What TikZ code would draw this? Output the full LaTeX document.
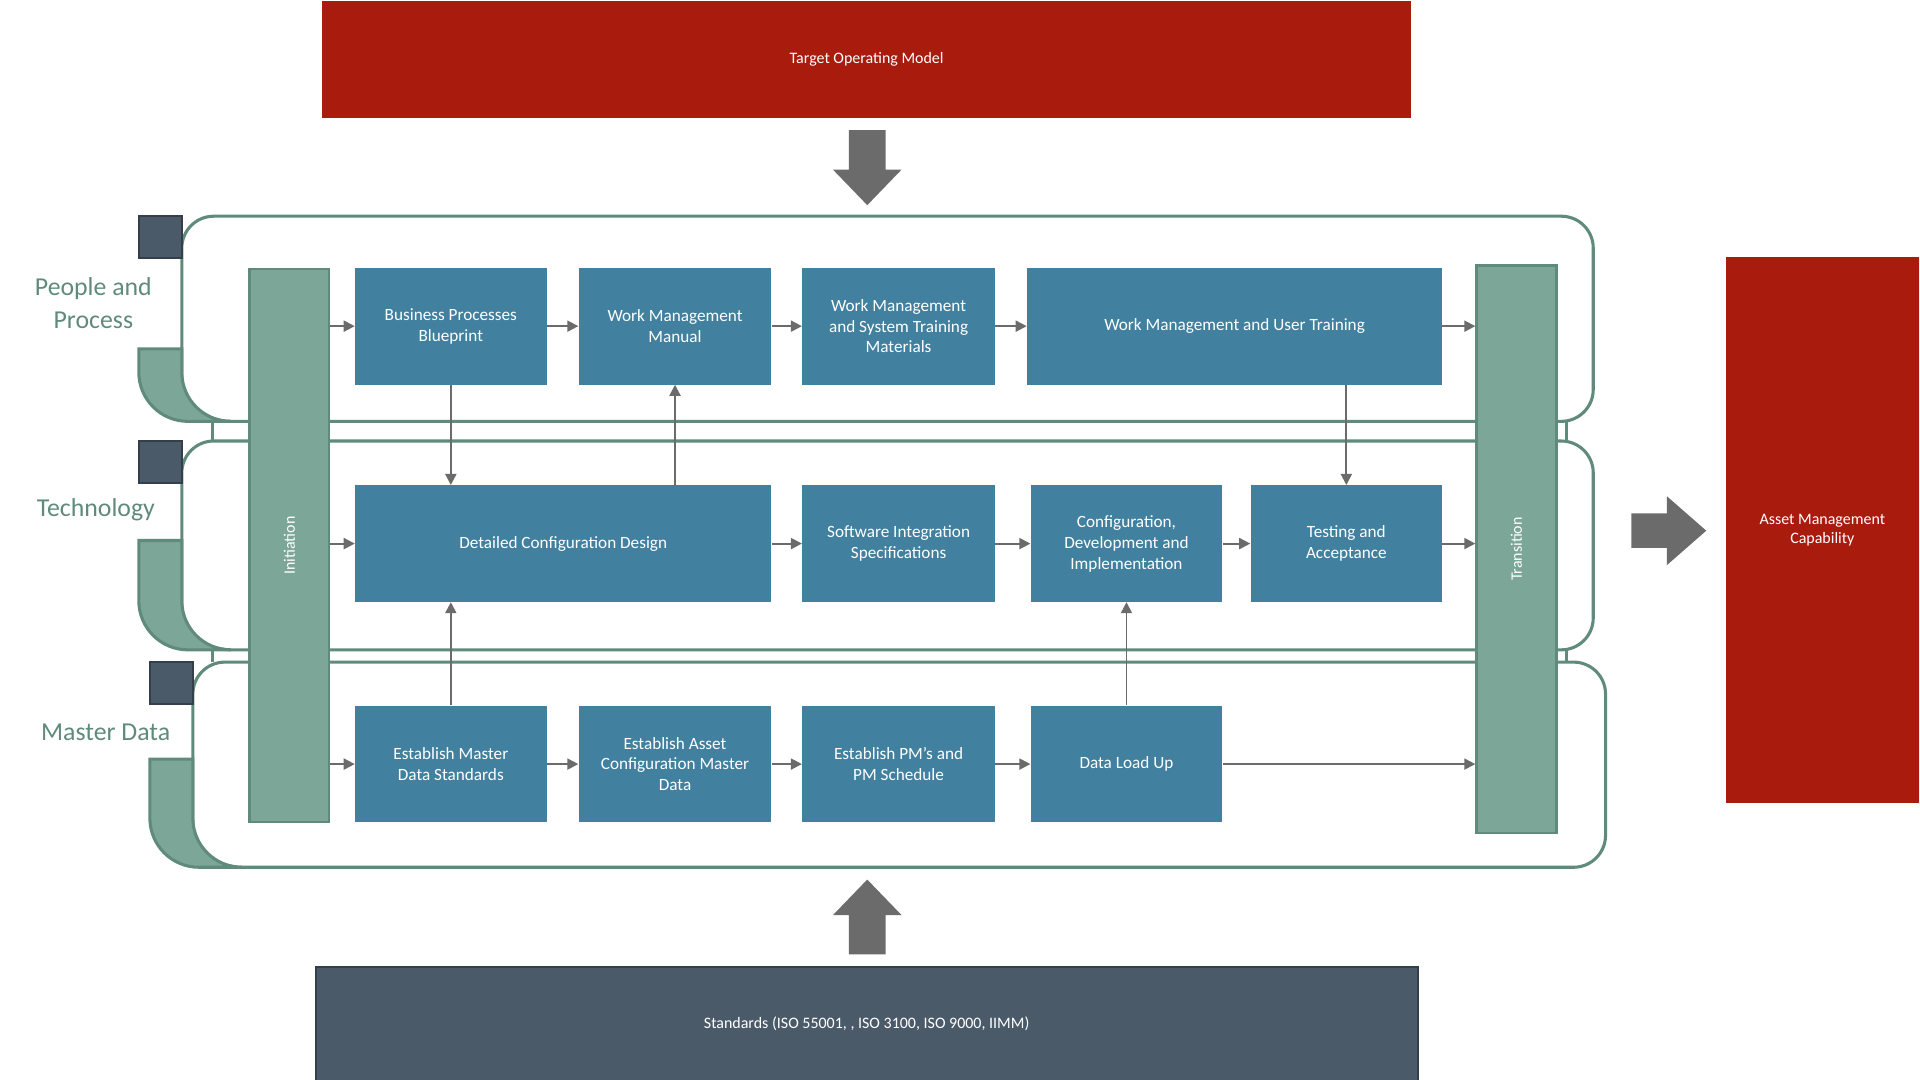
\documentclass[tikz,border=0pt]{standalone}
\usepackage{fontspec}
\setmainfont{Carlito}
\usetikzlibrary{arrows.meta}
\definecolor{tomred}{HTML}{A91B0D}
\definecolor{stepblue}{HTML}{41809E}
\definecolor{laneteal}{HTML}{7BA698}
\definecolor{lanestroke}{HTML}{5F8A7C}
\definecolor{slate}{HTML}{4B5A69}
\definecolor{flowgray}{HTML}{6B6B6B}
\tikzset{
  blk/.style={rectangle, fill=stepblue, text=white, align=center, font=\fontsize{14}{17}\selectfont, inner sep=2pt},
  phase/.style={rectangle, fill=laneteal, draw=lanestroke, line width=2pt, text=white, font=\fontsize{13}{15}\selectfont},
  arr/.style={-{Triangle[length=9pt,width=9pt]}, line width=1.5pt, draw=flowgray},
  lane/.style={draw=lanestroke, line width=2.5pt, fill=white},
  tab/.style={fill=laneteal, draw=lanestroke, line width=2.5pt},
  lbl/.style={text=lanestroke, align=center, font=\fontsize{21}{27}\selectfont},
  big/.style={fill=flowgray}
}
\begin{document}
\begin{tikzpicture}[x=1pt,y=-1pt]
    \useasboundingbox (0,0) rectangle (1563,879);

    % top and bottom inputs
    \node[rectangle, fill=tomred, minimum width=886pt, minimum height=95pt, text=white, font=\fontsize{13}{15}\selectfont] (tom) at (705.5,48.5) {Target Operating Model};
    \node[rectangle, fill=slate, draw=slate!70!black, line width=1.5pt, minimum width=897pt, minimum height=93pt, text=white, font=\fontsize{13}{15}\selectfont] (std) at (705.5,833.5) {Standards (ISO 55001, , ISO 3100, ISO 9000, IIMM)};
    \node[rectangle, fill=tomred, minimum width=157pt, minimum height=445pt, text=white, align=center, font=\fontsize{13}{15}\selectfont] (amc) at (1483.5,431.5) {Asset Management\\Capability};

    % block arrows
    \fill[big] (691,106) -- (721,106) -- (721,138) -- (734,138) -- (706,167) -- (678,138) -- (691,138) -- cycle;
    \fill[big] (691,777) -- (721,777) -- (721,745) -- (734,745) -- (706,716) -- (678,745) -- (691,745) -- cycle;
    \fill[big] (1328,418) -- (1357,418) -- (1357,404) -- (1389,432) -- (1357,460) -- (1357,446) -- (1328,446) -- cycle;

    % lanes
    \draw[lanestroke, line width=2.5pt] (173,343) -- (173,359) (1275,343) -- (1275,359) (173,529) -- (173,539) (1275,529) -- (1275,539);
    \draw[lane, rounded corners=26pt] (188,343) -- (1297,343) -- (1297,176) -- (148,176) -- (148,303) [sharp corners] to[out=-90,in=180] (188,343);
    \draw[lane, rounded corners=26pt] (188,529) -- (1297,529) -- (1297,359) -- (148,359) -- (148,489) [sharp corners] to[out=-90,in=180] (188,529);
    \draw[lane, rounded corners=26pt] (197,706) -- (1307,706) -- (1307,539) -- (157,539) -- (157,666) [sharp corners] to[out=-90,in=180] (197,706);
    \draw[tab] (113,284) -- (148,284) -- (148,303) to[out=-90,in=180] (188,343) -- (153,343) to[out=180,in=-90] (113,303) -- cycle;
    \draw[tab] (113,440) -- (148,440) -- (148,489) to[out=-90,in=180] (188,529) -- (153,529) to[out=180,in=-90] (113,489) -- cycle;
    \draw[tab] (122,618) -- (157,618) -- (157,666) to[out=-90,in=180] (197,706) -- (162,706) to[out=180,in=-90] (122,666) -- cycle;
    \draw[fill=slate, draw=slate!70!black, line width=1.5pt] (113,176) rectangle (148,210) (113,359) rectangle (148,393) (122,539) rectangle (157,573);
    \node[lbl] (lpp) at (76,247) {People and\\Process};
    \node[lbl] (ltech) at (78,415) {Technology};
    \node[lbl] (lmd) at (86,596) {Master Data};

    % phases
    \node[phase, minimum width=65pt, minimum height=450pt] (init) at (235.5,444) {\rotatebox{90}{Initiation}};
    \node[phase, minimum width=65pt, minimum height=462pt] (trans) at (1234.5,447) {\rotatebox{90}{Transition}};

    % steps
    \node[blk, minimum width=156pt, minimum height=95pt] (bpb) at (367,265.5) {Business Processes\\Blueprint};
    \node[blk, minimum width=157pt, minimum height=95pt] (wmm) at (549.5,265.5) {Work Management\\Manual};
    \node[blk, minimum width=157pt, minimum height=95pt] (wmst) at (731.5,265.5) {Work Management\\and System Training\\Materials};
    \node[blk, minimum width=338pt, minimum height=95pt] (wmut) at (1005,265.5) {Work Management and User Training};
    \node[blk, minimum width=339pt, minimum height=95pt] (dcd) at (458.5,442.5) {Detailed Configuration Design};
    \node[blk, minimum width=157pt, minimum height=95pt] (sis) at (731.5,442.5) {Software Integration\\Specifications};
    \node[blk, minimum width=156pt, minimum height=95pt] (cdi) at (917,442.5) {Configuration,\\Development and\\Implementation};
    \node[blk, minimum width=156pt, minimum height=95pt] (ta) at (1096,442.5) {Testing and\\Acceptance};
    \node[blk, minimum width=156pt, minimum height=95pt] (emds) at (367,622) {Establish Master\\Data Standards};
    \node[blk, minimum width=157pt, minimum height=95pt] (eacm) at (549.5,622) {Establish Asset\\Configuration Master\\Data};
    \node[blk, minimum width=157pt, minimum height=95pt] (epm) at (731.5,622) {Establish PM's and\\PM Schedule};
    \node[blk, minimum width=156pt, minimum height=95pt] (dlu) at (917,622) {Data Load Up};

    % flow
    \draw[arr] (bpb.west -| init.east) -- (bpb);
    \draw[arr] (bpb) -- (wmm);
    \draw[arr] (wmm) -- (wmst);
    \draw[arr] (wmst) -- (wmut);
    \draw[arr] (wmut) -- (wmut.east -| trans.west);
    \draw[arr] (dcd.west -| init.east) -- (dcd);
    \draw[arr] (dcd) -- (sis);
    \draw[arr] (sis) -- (cdi);
    \draw[arr] (cdi) -- (ta);
    \draw[arr] (ta) -- (ta.east -| trans.west);
    \draw[arr] (emds.west -| init.east) -- (emds);
    \draw[arr] (emds) -- (eacm);
    \draw[arr] (eacm) -- (epm);
    \draw[arr] (epm) -- (dlu);
    \draw[arr] (dlu) -- (dlu.east -| trans.west);
    \draw[arr] (bpb) -- (bpb |- dcd.north);
    \draw[arr] (wmm |- dcd.north) -- (wmm);
    \draw[arr] (wmut.south -| ta) -- (ta);
    \draw[arr] (emds) -- (emds |- dcd.south);
    \draw[arr] (dlu) -- (cdi);
\end{tikzpicture}
\end{document}
